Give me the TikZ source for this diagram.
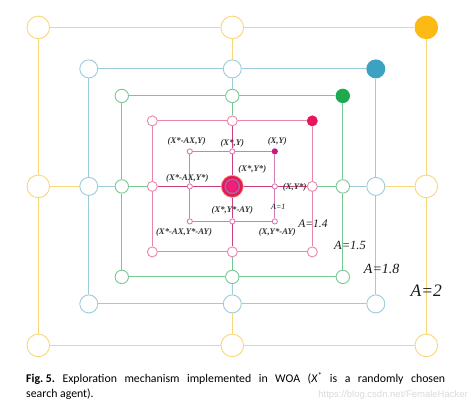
\documentclass[tikz,border=0pt]{standalone}
\usepackage{fontspec}
\setmainfont{Liberation Serif}
\newfontfamily\capfont{Carlito}
\newfontfamily\wmfont{Liberation Sans}
\definecolor{innL}{HTML}{D67BB6}
\definecolor{innF}{HTML}{C8187C}
\definecolor{pinkL}{HTML}{EA86AE}
\definecolor{pinkF}{HTML}{E8175D}
\definecolor{grnL}{HTML}{78C893}
\definecolor{grnF}{HTML}{1DAA4E}
\definecolor{bluL}{HTML}{9CCBDB}
\definecolor{bluF}{HTML}{3DA2C2}
\definecolor{yelL}{HTML}{F8D77A}
\definecolor{yelF}{HTML}{FDBA14}
\definecolor{crim}{HTML}{CF3F7A}
\definecolor{ctrA}{HTML}{E2195F}
\definecolor{ctrB}{HTML}{B0629E}
\definecolor{ctrC}{HTML}{F0207A}
\definecolor{ctrO}{HTML}{F5A060}
\tikzset{
  hollow/.style={circle, draw=#1, fill=white, line width=0.9pt, inner sep=0pt},
  solid/.style={circle, fill=#1, inner sep=0pt},
  edge/.style={draw=#1, line width=0.9pt},
  lab/.style={font=\fontsize{8.7}{9}\selectfont\bfseries\itshape, inner sep=0pt, text=black!80},
  alab/.style={font=\fontsize{#1}{#1}\selectfont\itshape, inner sep=0pt, text=black!90}
}
\begin{document}
\begin{tikzpicture}[x=1pt,y=-1pt]
\useasboundingbox (0,0) rectangle (474,405);
\fill[white] (0,0) rectangle (474,405);
\coordinate (o) at (232.3,186.4);
\foreach \n/\hx/\hy/\r/\lc/\fc in {i/42.5/35/2.6/innL/innF, p/80/65.5/5/pinkL/pinkF, g/110.5/90.5/6.7/grnL/grnF, b/143.5/117.5/9/bluL/bluF, y/194/159/11.3/yelL/yelF}{
  \node[hollow=\lc, minimum size={2*\r pt}] (\n-tl) at ([shift={(-\hx,-\hy)}]o) {};
  \node[hollow=\lc, minimum size={2*\r pt}] (\n-tm) at ([shift={(0,-\hy)}]o) {};
  \node[solid=\fc, minimum size={2*\r pt+1pt}] (\n-tr) at ([shift={(\hx,-\hy)}]o) {};
  \node[hollow=\lc, minimum size={2*\r pt}] (\n-lm) at ([shift={(-\hx,0)}]o) {};
  \node[hollow=\lc, minimum size={2*\r pt}] (\n-rm) at ([shift={(\hx,0)}]o) {};
  \node[hollow=\lc, minimum size={2*\r pt}] (\n-bl) at ([shift={(-\hx,\hy)}]o) {};
  \node[hollow=\lc, minimum size={2*\r pt}] (\n-bm) at ([shift={(0,\hy)}]o) {};
  \node[hollow=\lc, minimum size={2*\r pt}] (\n-br) at ([shift={(\hx,\hy)}]o) {};
  \draw[edge=\lc] (\n-tl) -- (\n-tm) -- (\n-tr) -- (\n-rm) -- (\n-br) -- (\n-bm) -- (\n-bl) -- (\n-lm) -- (\n-tl);
}
% cross connectors between rings
\foreach \s in {tm,lm,rm,bm}{
  \draw[edge=crim] (i-\s) -- (p-\s);
  \draw[edge=grnL] (p-\s) -- (g-\s);
  \draw[edge=bluL] (g-\s) -- (b-\s);
  \draw[edge=yelL] (b-\s) -- (y-\s);
}
% centre
\node[circle, fill=ctrA, draw=ctrO, line width=0.7pt, minimum size=22pt, inner sep=0pt] (c) at (o) {};
\foreach \s in {tm,lm,rm,bm}{
  \draw[edge=crim] (c) -- (i-\s);
}
\draw[ctrB, line width=1.6pt] (c.center) circle (7pt);
\fill[ctrC] (c.center) circle (5.2pt);
% labels
\node[lab] (l1) at (186.7,141.7) {(X*-AX,Y)};
\node[lab] (l2) at (232.3,143.3) {(X*,Y)};
\node[lab] (l3) at (277.3,141) {(X,Y)};
\node[lab] (l4) at (252.3,169) {(X*,Y*)};
\node[lab] (l5) at (187.3,178) {(X*-AX,Y*)};
\node[lab] (l6) at (294.7,187.3) {(X,Y*)};
\node[lab] (l7) at (232.3,210) {(X*,Y*-AY)};
\node[alab=8] (a1) at (278.3,206.7) {A=1};
\node[lab] (l8) at (184,232.3) {(X*-AX,Y*-AY)};
\node[lab] (l9) at (277.3,232.3) {(X,Y*-AY)};
\node[alab=11.5] (a2) at (313,223.3) {A=1.4};
\node[alab=12.5] (a3) at (350,245.7) {A=1.5};
\node[alab=14] (a4) at (381.7,269) {A=1.8};
\node[alab=17.5] (a5) at (426.3,290.3) {A=2};
% caption
\node[anchor=north west, text width=419pt, align=justify, inner sep=0pt,
      font=\capfont\fontsize{11.8}{15}\selectfont] (cap) at (26,372)
  {\mbox{\textbf{Fig.\ 5.}} Exploration mechanism implemented in WOA (\textit{X}\textsuperscript{*} is a randomly chosen\linebreak search agent).};
\node[anchor=base east, inner sep=0pt, font=\wmfont\fontsize{9.5}{10}\selectfont, text=black!14] (wm) at (468,397) {https://blog.csdn.net/FemaleHacker};
\end{tikzpicture}
\end{document}
